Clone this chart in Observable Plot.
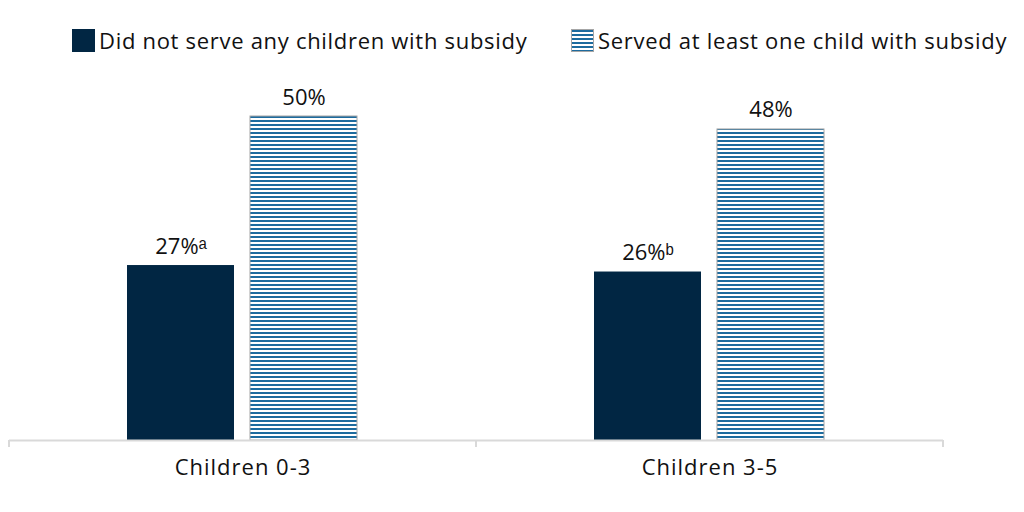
<!DOCTYPE html>
<html><head><meta charset="utf-8">
<script src="https://cdn.jsdelivr.net/npm/d3@7"></script>
<script src="https://cdn.jsdelivr.net/npm/@observablehq/plot@0.6"></script>
<style>
body{margin:0;background:#fff;font-family:"Open Sans",sans-serif;}
#legend{position:relative;height:80px;width:1024px;font-size:22px;letter-spacing:0.7px;color:#111;}
.item{position:absolute;top:28px;display:flex;align-items:center;height:24px;white-space:nowrap}
.sw{width:23px;height:23px;margin-right:4px;box-sizing:border-box}
</style></head><body>
<div id="legend"></div><div id="chart"></div>
<script>
const categories = ["Children 0-3", "Children 3-5"];
const series = ["Did not serve any children with subsidy", "Served at least one child with subsidy"];
const didNotServe = [27, 26];
const servedAtLeastOne = [50, 48];
const notes = ["ᵃ", "ᵇ"];

const navy = "#012643";
const blue = "#1d6b9e";

const rows = [];
categories.forEach((c, i) => {
  rows.push({category: c, series: series[0], value: didNotServe[i], label: didNotServe[i] + "%" + notes[i]});
  rows.push({category: c, series: series[1], value: servedAtLeastOne[i], label: servedAtLeastOne[i] + "%"});
});

// legend
const legend = d3.select("#legend");
const lefts = [72, 571];
series.forEach((s, i) => {
  const it = legend.append("div").attr("class", "item").style("left", lefts[i] + "px");
  const sw = it.append("div").attr("class", "sw");
  if (i === 0) sw.style("background", navy);
  else sw.style("background", `repeating-linear-gradient(to bottom, ${blue} 0px, ${blue} 2px, #fff 2px, #fff 4px)`).style("border", "1px solid #a6a6a6");
  it.append("span").text(s);
});

const plot = Plot.plot({
  width: 1024, height: 432,
  marginLeft: 8, marginRight: 81, marginTop: 36, marginBottom: 72,
  style: {fontFamily: "Open Sans, sans-serif", color: "#111"},
  fx: {domain: categories, padding: 0, label: null},
  x: {domain: series, paddingInner: 0.129, paddingOuter: 0.95, axis: null},
  y: {domain: [0, 50], axis: null},
  marks: [
    Plot.barY(rows, {filter: d => d.series === series[0], fx: "category", x: "series", y: "value", fill: navy}),
    Plot.barY(rows, {filter: d => d.series === series[1], fx: "category", x: "series", y: "value", fill: "url(#stripes)", stroke: "#a6a6a6", strokeWidth: 1}),
    Plot.ruleY([0], {stroke: "#d9d9d9", strokeWidth: 2}),
    Plot.text(rows, {fx: "category", x: "series", y: "value", text: "label", dy: -12, lineAnchor: "bottom", fontSize: 22, fill: "#111", style: "letter-spacing:0.8px"}),
    Plot.axisFx({anchor: "bottom", tickSize: 0, tickPadding: 19, fontSize: 22, label: null})
  ]
});

const svg = d3.select(plot);
svg.selectAll("[aria-label='fx-axis tick label'] text, g[aria-label='fx-axis tick label']").style("letter-spacing", "1px");
const defs = svg.insert("defs", ":first-child");
const pat = defs.append("pattern").attr("id", "stripes").attr("patternUnits", "userSpaceOnUse").attr("width", 8).attr("height", 4);
pat.append("rect").attr("width", 8).attr("height", 4).attr("fill", "#fff");
pat.append("rect").attr("width", 8).attr("height", 2).attr("fill", blue);

// category boundary ticks
const fx = plot.scale("fx");
const bw = fx.bandwidth;
const bounds = categories.map(c => fx.apply(c)).concat([fx.apply(categories[categories.length - 1]) + bw]);
const yb = plot.scale("y").apply(0);
svg.append("g").selectAll("line").data(bounds).join("line")
  .attr("x1", d => d).attr("x2", d => d).attr("y1", yb).attr("y2", yb + 7)
  .attr("stroke", "#d9d9d9").attr("stroke-width", 2);

document.getElementById("chart").appendChild(plot);
</script>
</body></html>
